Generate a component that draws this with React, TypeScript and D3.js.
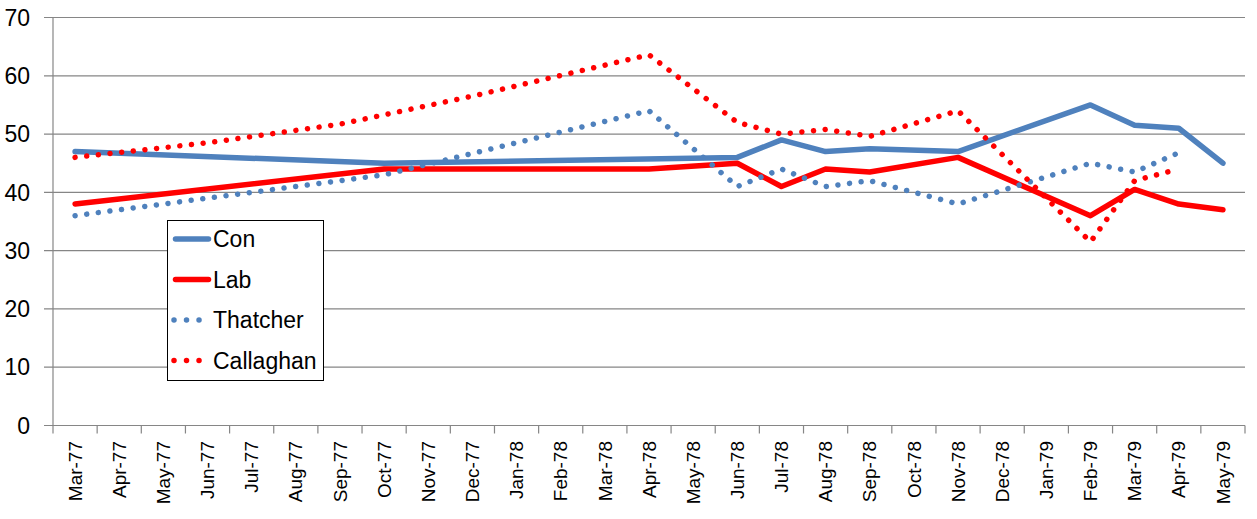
import * as d3 from "d3";

// Poll ratings 1977-79: party vote intention vs leader approval.
const months = [
  "Mar-77", "Apr-77", "May-77", "Jun-77", "Jul-77", "Aug-77", "Sep-77", "Oct-77", "Nov-77",
  "Dec-77", "Jan-78", "Feb-78", "Mar-78", "Apr-78", "May-78", "Jun-78", "Jul-78", "Aug-78",
  "Sep-78", "Oct-78", "Nov-78", "Dec-78", "Jan-79", "Feb-79", "Mar-79", "Apr-79", "May-79",
];

// null = no poll that month (the line just joins the neighbouring points)
const con = [47, null, null, null, null, null, null, 45, null, null, null, null, null, null, null, 46, 49, 47, 47.5, null, 47, null, null, 55, 51.5, 51, 45];
const lab = [38, null, null, null, null, null, null, 44, null, null, null, null, null, 44, null, 45, 41, 44, 43.5, null, 46, null, null, 36, 40.5, 38, 37];
const thatcher = [36, null, null, null, null, null, null, 43, null, null, null, null, null, 54, null, 41, 44, 41, 42, null, 38, null, null, 45, 43.5, 46.8, null];
const callaghan = [46, null, null, 48.5, null, null, 51.7, null, null, 56.5, null, null, null, 63.6, null, 52, 50, 50.8, 49.6, null, 54, null, null, 31.5, 42, 44, null];

const yTicks = [0, 10, 20, 30, 40, 50, 60, 70];

const BLUE = "#4f81bd";
const RED = "#ff0000";
const GRID = "#868686";
const FONT = "'Liberation Sans', Arial, sans-serif";

const series = [
  { name: "Con", values: con, color: BLUE, dotted: false },
  { name: "Lab", values: lab, color: RED, dotted: false },
  { name: "Thatcher", values: thatcher, color: BLUE, dotted: true },
  { name: "Callaghan", values: callaghan, color: RED, dotted: true },
];

const W = 1257;
const H = 519;
const left = 53;
const right = 1245;
const top = 17.5;
const bottom = 425.5;

const x = d3.scaleBand<string>().domain(months).range([left, right]).padding(0);
const y = d3.scaleLinear().domain([0, 70]).range([bottom, top]);
const cx = (m: string) => (x(m) ?? 0) + x.bandwidth() / 2;

const line = d3
  .line<[string, number]>()
  .x((d) => cx(d[0]))
  .y((d) => y(d[1]));

const DOTS = "0.01 11.7";

export default function App() {
  return (
    <svg
      width={W}
      height={H}
      viewBox={`0 0 ${W} ${H}`}
      style={{ position: "absolute", left: 0, top: 0, background: "#fff" }}
      fontFamily={FONT}
    >
      {/* gridlines + y ticks */}
      {yTicks.map((t) => (
        <g key={t}>
          <line x1={44} x2={right} y1={y(t)} y2={y(t)} stroke={GRID} strokeWidth={1.2} />
          <text x={30} y={y(t)} dy="0.36em" textAnchor="end" fontSize={23} fill="#000">
            {t}
          </text>
        </g>
      ))}
      <line x1={left} x2={left} y1={top} y2={bottom} stroke={GRID} strokeWidth={1.2} />

      {/* x ticks at category boundaries */}
      {d3.range(months.length + 1).map((i) => {
        const xx = left + i * x.bandwidth();
        return <line key={i} x1={xx} x2={xx} y1={bottom} y2={bottom + 8} stroke={GRID} strokeWidth={1.2} />;
      })}
      {months.map((m) => (
        <text
          key={m}
          transform={`translate(${cx(m)},441) rotate(-90)`}
          dy="0.35em"
          textAnchor="end"
          fontSize={19}
          fill="#000"
        >
          {m}
        </text>
      ))}

      {/* series */}
      {series.map((s) => {
        const pts = months
          .map((m, i) => [m, s.values[i]] as [string, number | null])
          .filter((d) => d[1] != null) as [string, number][];
        return (
          <path
            key={s.name}
            d={line(pts) ?? ""}
            fill="none"
            stroke={s.color}
            strokeWidth={5.5}
            strokeLinecap="round"
            strokeLinejoin="round"
            strokeDasharray={s.dotted ? DOTS : undefined}
          />
        );
      })}

      {/* legend */}
      <g>
        <rect x={167.5} y={220.5} width={156} height={160} fill="#fff" stroke="#000" strokeWidth={1} />
        {series.map((s, i) => {
          const ly = 239 + i * 40.5;
          return (
            <g key={s.name}>
              {s.dotted ? (
                <line x1={174} x2={206} y1={ly} y2={ly} stroke={s.color} strokeWidth={5.5} strokeLinecap="round" strokeDasharray="0.01 12.5" />
              ) : (
                <line x1={175.5} x2={208.5} y1={ly} y2={ly} stroke={s.color} strokeWidth={5.5} strokeLinecap="round" />
              )}
              <text x={213} y={ly} dy="0.36em" fontSize={23} fill="#000">
                {s.name}
              </text>
            </g>
          );
        })}
      </g>
    </svg>
  );
}
